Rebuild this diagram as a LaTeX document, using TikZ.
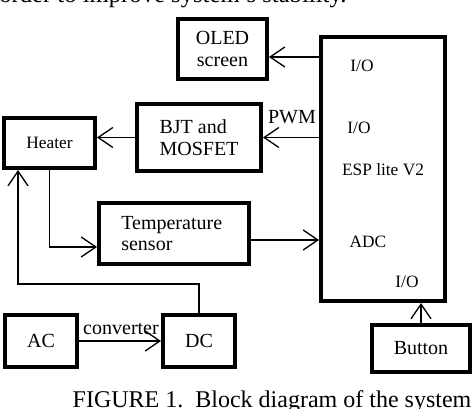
\documentclass[tikz,border=0pt]{standalone}
\usepackage{fontspec}
\setmainfont{Liberation Serif}
\usepackage{tikz}
\usetikzlibrary{arrows.meta,calc,positioning}
\tikzset{
block/.style={draw, line width=3pt, inner sep=0pt, align=left, font=\fontsize{15}{16}\selectfont}, % thick boxes
lbl/.style={inner sep=0pt, font=\fontsize{15}{16}\selectfont},
smalllbl/.style={inner sep=0pt, font=\fontsize{13}{15}\selectfont},
link/.style={line width=1pt, -{Straight Barb[length=11pt,width=15pt,line width=1pt]}},
}

\begin{document}
\begin{tikzpicture}[x=0.75pt,y=0.75pt,yscale=-1,xscale=1]
\clip (0,0) rectangle (474,409);
%Text above
\node [anchor=base west, inner sep=0pt, font=\fontsize{18.5}{20}\selectfont] (prev) at (-1,3) {order to improve system’s stability.};
%Boxes
\node [block, minimum width=66.75pt, minimum height=45pt, align=center] (oled) at (222.5,49) {OLED\\screen};
\node [block, minimum width=93pt, minimum height=198pt] (esp) at (383,169) {};
\node [block, minimum width=93pt, minimum height=50.25pt] (bjt) at (199,137.5) {BJT and\\MOSFET};
\node [block, minimum width=68.25pt, minimum height=37.5pt, font=\fontsize{13}{15}\selectfont] (heater) at (49.5,143) {Heater};
\node [block, minimum width=112.5pt, minimum height=45.75pt] (temp) at (174,233.5) {\raisebox{-3pt}{\parbox{79pt}{Temperature\\sensor}}};
\node [block, minimum width=54pt, minimum height=39pt] (ac) at (41,341) {AC};
\node [block, minimum width=54pt, minimum height=39pt] (dc) at (199,341) {DC};
\node [block, minimum width=73.5pt, minimum height=35.25pt] (button) at (421,348.5) {Button};
%ESP labels
\node [smalllbl] (io1) at (362,66) {I/O};
\node [smalllbl] (io2) at (359,128) {I/O};
\node [smalllbl] (espname) at (383,170) {ESP lite V2};
\node [smalllbl] (adc) at (368,242) {ADC};
\node [smalllbl] (io3) at (407,282) {I/O};
%Straight Lines
\draw [link] (esp.west |- 0,57) -- (oled.east |- 0,57);
\draw [link] (esp.west |- bjt.east) -- (bjt.east);
\draw [link] (bjt.west) -- (bjt.west -| heater.east);
\draw [link] (heater.south) |- (temp.west |- 0,247);
\draw [link] (temp.east |- 0,240) -- (esp.west |- 0,240);
\draw [link] (dc.north) -- (dc.north |- 0,284) -| (heater.south -| 18,0);
\draw [link] (ac) -- (dc);
\draw [link] (button.north) -- (button.north |- esp.south);
\node [lbl] (pwm) at (292,117) {PWM};
\node [lbl] (conv) at (121,329) {converter};
%Caption
\node [anchor=base, inner sep=0pt, font=\fontsize{18}{20}\selectfont] (caption) at (272,407) {FIGURE 1.\ \ Block diagram of the system};
\end{tikzpicture}
\end{document}
